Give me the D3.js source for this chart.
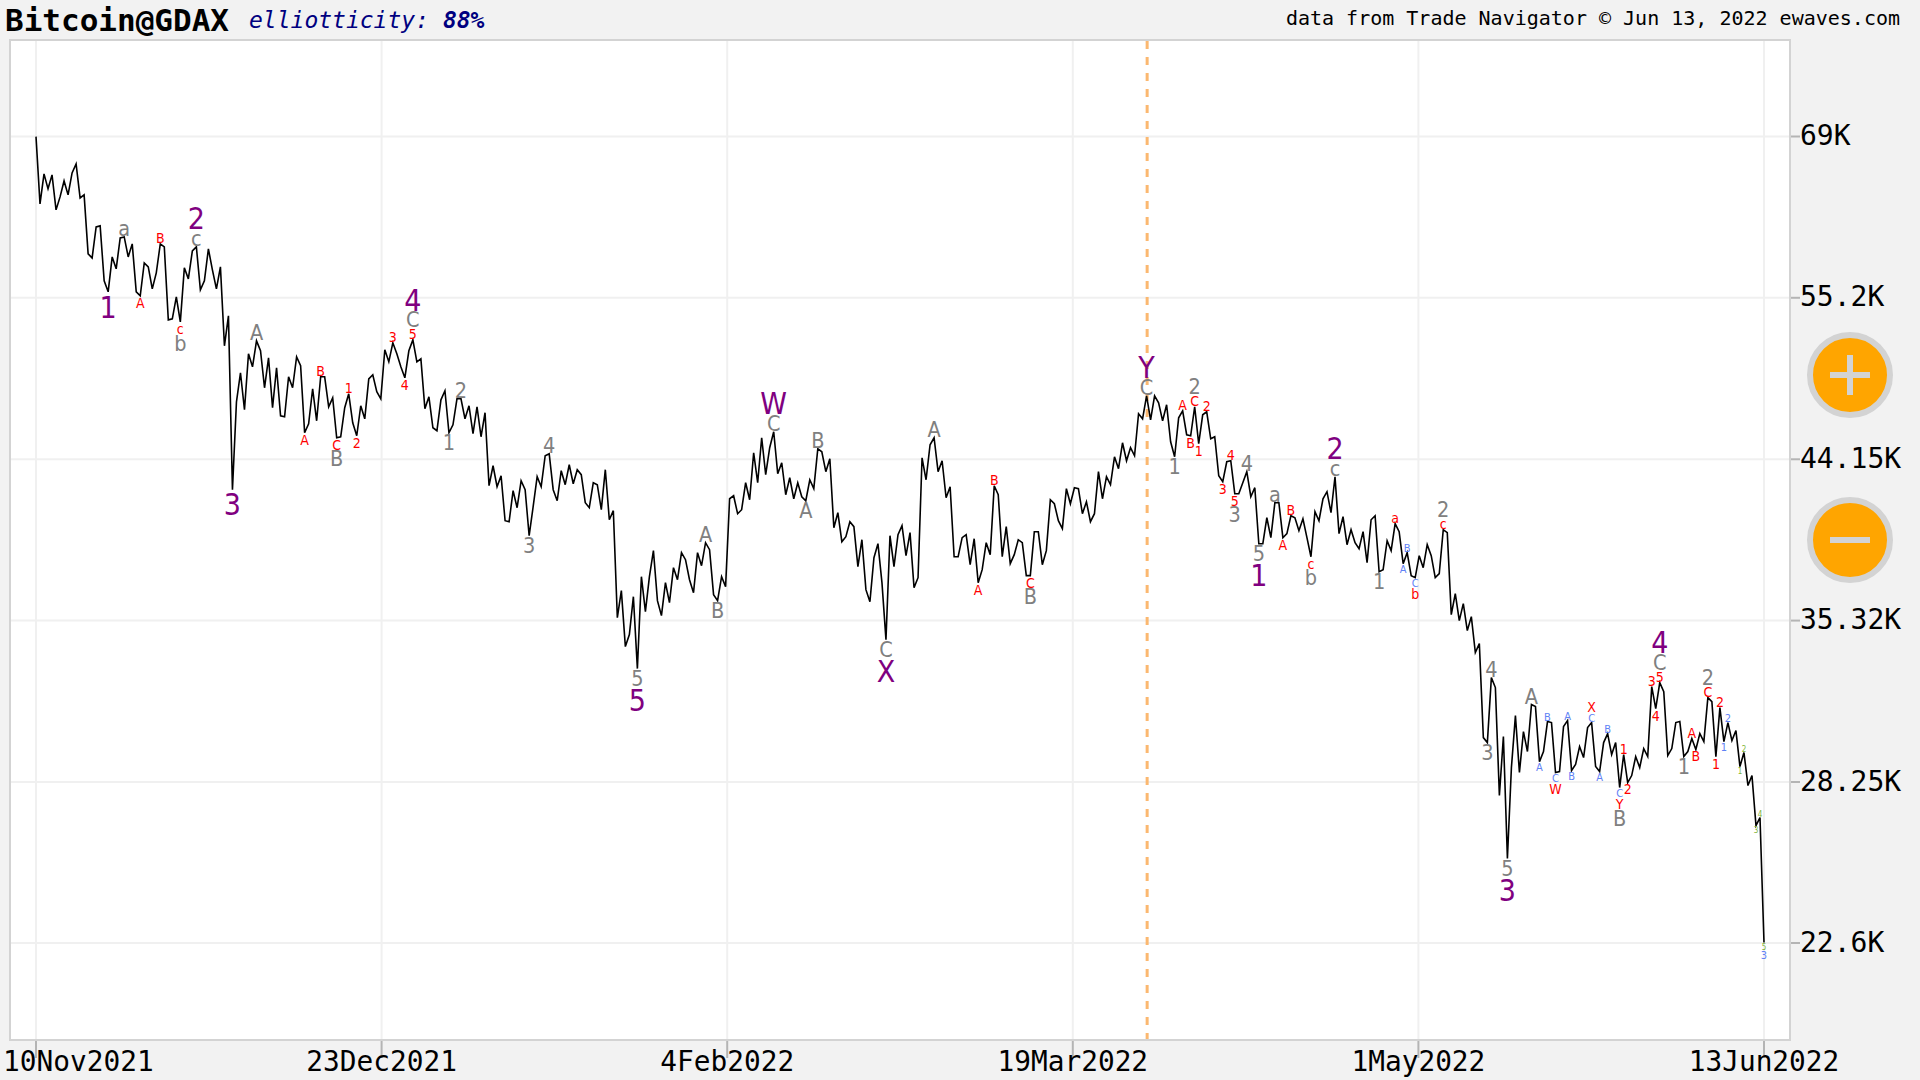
<!DOCTYPE html>
<html>
<head>
<meta charset="utf-8">
<title>Bitcoin@GDAX</title>
<script src="https://d3js.org/d3.v7.min.js"></script>
<style>
  html, body { margin: 0; padding: 0; background: #f2f2f2; }
  svg { display: block; }
  .mono { font-family: "DejaVu Sans Mono", monospace; }
  .wave { font-family: "DejaVu Sans", sans-serif; font-stretch: condensed; text-anchor: middle; }
</style>
</head>
<body>
<svg id="chart" width="1920" height="1080"></svg>
<script>
// Twice-daily closes, BTC/USD
const prices = [
68990,62860,65520,64180,65430,62340,63470,64885,63645,65612,66431,63379,63645,58659,58332,60891,60975,56507,55658,58414,
57456,59968,60052,58414,59475,55658,55349,57932,57615,55889,57139,59475,59230,53540,53615,55272,53394,57536,56663,58903,
59230,55812,56507,59067,57377,55889,57615,51654,53841,42330,47803,49763,47280,51086,50177,52009,51299,48740,50802,47411,
50108,46888,46823,49487,48740,50873,50246,45800,46373,48673,46563,49487,49487,47476,48068,45482,45546,47411,48337,46436,
45609,47542,46691,49347,49625,48472,48001,51370,50522,51867,51086,50177,49418,51299,52080,50522,50731,47345,48136,46118,
45927,47934,48539,45800,46309,48001,48001,46691,47542,45737,47476,45546,47084,42564,43757,42505,43156,40551,40495,42271,
41289,42857,42330,39720,41346,43096,42505,44365,44488,42330,41688,43457,42623,43818,42681,43517,43217,41574,41289,42740,
42623,41175,43517,40606,41118,35462,36813,34071,34640,36507,33050,37531,35760,37531,38906,36305,35561,37221,36206,38003,
37374,38798,38422,37374,36711,38798,38108,39337,38960,36609,36305,37531,37017,41803,41979,40947,41175,42740,41745,44550,
42740,45482,43217,44860,45864,43277,43938,42037,43036,41803,42740,41920,41688,42915,42389,44798,44612,43397,44180,40163,
41004,39391,39664,40495,40218,38055,39499,36864,36256,38529,39283,37221,34399,39720,38055,39775,40274,38636,39886,36966,
37479,44241,42915,45045,45482,43397,44058,41862,42505,38582,38582,39610,39775,38160,39554,37221,37898,39337,38691,42564,
42037,38582,40218,38212,38691,39499,39337,37584,37584,39941,39941,38160,38906,41745,41517,40551,40107,42389,41517,42447,
42389,40947,41631,40495,40947,43397,41803,43096,42623,44303,43577,45169,44058,44860,44365,47018,46691,48203,46627,48203,
47738,46563,47607,45231,44303,46757,47215,45673,45609,47476,45107,46953,47149,45419,45546,43156,42798,43998,44058,42096,
42096,42740,43397,41920,42447,39283,39283,40720,39610,41574,41574,39610,39831,40834,40720,39997,40663,39610,38582,41061,
40551,41803,42213,41004,43096,39831,40777,39229,40052,39337,39014,39941,38265,40606,40834,37793,37898,39445,38906,40384,
39941,38212,38798,37584,37479,38636,38003,39229,38636,37479,37689,40052,39886,35611,36660,35315,36157,34833,35512,33790,
34211,30041,29834,32639,32193,27726,30083,25413,28822,30969,28623,30293,29466,31444,31358,29060,29466,30713,30671,28623,
28662,30503,30755,28702,28941,29671,29222,30461,30671,28861,28662,29834,30209,29343,29834,28035,29343,28229,28503,29262,
28822,29589,29262,32237,31271,32415,32015,29304,29589,30671,30713,29262,29466,29999,29548,30209,29875,31749,31574,29262,
31314,29875,30671,29916,30335,28861,29425,28113,28503,26600,26895,22626
];

const startDate = "2021-11-10";
const endDate = "2022-06-13";
const markerDate = "2022-03-28T06:00:00Z";

const xTickDates = ["2021-11-10", "2021-12-23", "2022-02-04", "2022-03-19", "2022-05-01", "2022-06-13"];
const xTickLabels = ["10Nov2021", "23Dec2021", "4Feb2022", "19Mar2022", "1May2022", "13Jun2022"];
const yTickValues = [69000, 55200, 44150, 35320, 28250, 22610];
const yTickLabels = ["69K", "55.2K", "44.15K", "35.32K", "28.25K", "22.6K"];

// Elliott wave counts by degree: [bar index, label, side of the line]
const primaryWaves = [
  [18,"1","d"],[40,"2","u"],[49,"3","d"],[94,"4","u"],[150,"5","d"],
  [184,"W","u"],[212,"X","d"],[277,"Y","u"],
  [305,"1","d"],[324,"2","u"],[367,"3","d"],[405,"4","u"]
];
const intermediateWaves = [
  [22,"a","u"],[36,"b","d"],[40,"c","u"],
  [55,"A","u"],[75,"B","d"],[94,"C","u"],
  [103,"1","d"],[106,"2","u"],[123,"3","d"],[128,"4","u"],[150,"5","d"],
  [167,"A","u"],[170,"B","d"],[184,"C","u"],
  [192,"A","d"],[195,"B","u"],[212,"C","d"],
  [224,"A","u"],[248,"B","d"],[277,"C","u"],
  [284,"1","d"],[289,"2","u"],[299,"3","d"],[302,"4","u"],[305,"5","d"],
  [309,"a","u"],[318,"b","d"],[324,"c","u"],
  [335,"1","d"],[351,"2","u"],[362,"3","d"],[363,"4","u"],[367,"5","d"],
  [373,"A","u"],[395,"B","d"],[405,"C","u"],
  [411,"1","d"],[417,"2","u"]
];
const minorWaves = [
  [26,"A","d"],[31,"B","u"],[36,"c","d"],
  [67,"A","d"],[71,"B","u"],[75,"C","d"],
  [78,"1","u"],[80,"2","d"],[89,"3","u"],[92,"4","d"],[94,"5","u"],
  [235,"A","d"],[239,"B","u"],[248,"C","d"],
  [286,"A","u"],[288,"B","d"],[289,"C","u"],
  [290,"1","d"],[292,"2","u"],[296,"3","d"],[298,"4","u"],[299,"5","d"],
  [311,"A","d"],[313,"B","u"],[318,"c","d"],
  [339,"a","u"],[344,"b","d"],[351,"c","u"],
  [379,"W","d"],[388,"X","u"],[395,"Y","d"],
  [396,"1","u"],[397,"2","d"],[403,"3","u"],[404,"4","d"],[405,"5","u"],
  [413,"A","u"],[414,"B","d"],[417,"C","u"],
  [419,"1","d"],[420,"2","u"]
];
const minuteWaves = [
  [341,"A","d"],[342,"B","u"],[344,"C","d"],
  [375,"A","d"],[377,"B","u"],[379,"C","d"],
  [382,"A","u"],[383,"B","d"],[388,"C","u"],
  [390,"A","d"],[392,"B","u"],[395,"C","d"],
  [421,"1","d"],[422,"2","u"],[431,"3","d"]
];
const minuetteWaves = [
  [425,"1","d"],[426,"2","u"],[429,"3","d"],[430,"4","u"],[431,"5","d"]
];

const frame = { left: 10, right: 1790, top: 40, bottom: 1040 };
const svg = d3.select("#chart");
const parse = s => new Date(s.length > 10 ? s : s + "T00:00:00Z");

const x = d3.scaleUtc().domain([parse(startDate), parse(endDate)]).range([36, 1764]);
const y = d3.scaleLog().domain([69000, 22610]).range([136.5, 943]);
const dateAt = d3.scaleLinear().domain([0, prices.length - 1])
  .range([parse(startDate).getTime(), parse(endDate).getTime()]);
const px = i => x(new Date(dateAt(i)));

svg.append("rect")
  .attr("x", frame.left).attr("y", frame.top)
  .attr("width", frame.right - frame.left).attr("height", frame.bottom - frame.top)
  .attr("fill", "#fff").attr("stroke", "#d3d3d3").attr("stroke-width", 2);

// Grid
svg.append("g").selectAll("line").data(yTickValues).join("line")
  .attr("x1", frame.left + 1).attr("x2", frame.right - 1)
  .attr("y1", d => y(d)).attr("y2", d => y(d))
  .attr("stroke", "#f0f0f0").attr("stroke-width", 2);
svg.append("g").selectAll("line").data(xTickDates).join("line")
  .attr("x1", d => x(parse(d))).attr("x2", d => x(parse(d)))
  .attr("y1", frame.top + 1).attr("y2", frame.bottom - 1)
  .attr("stroke", "#f0f0f0").attr("stroke-width", 2);

// Tick stubs
svg.append("g").selectAll("line").data(yTickValues).join("line")
  .attr("x1", frame.right + 1).attr("x2", frame.right + 10)
  .attr("y1", d => y(d)).attr("y2", d => y(d))
  .attr("stroke", "#b4b4b4").attr("stroke-width", 2);
svg.append("g").selectAll("line").data(xTickDates).join("line")
  .attr("x1", d => x(parse(d))).attr("x2", d => x(parse(d)))
  .attr("y1", frame.bottom + 1).attr("y2", frame.bottom + 18)
  .attr("stroke", "#b4b4b4").attr("stroke-width", 2);

// Axis labels
svg.append("g").attr("class", "mono").selectAll("text").data(yTickValues).join("text")
  .attr("x", 1800).attr("y", d => y(d) + 8.5)
  .attr("font-size", 28).attr("fill", "#000")
  .text((d, i) => yTickLabels[i]);
svg.append("g").attr("class", "mono").selectAll("text").data(xTickDates).join("text")
  .attr("x", (d, i) => i === 0 ? 3 : x(parse(d)))
  .attr("y", 1071)
  .attr("text-anchor", (d, i) => i === 0 ? "start" : "middle")
  .attr("font-size", 27.8).attr("fill", "#000")
  .text((d, i) => xTickLabels[i]);

// Current-count marker
svg.append("line")
  .attr("x1", x(parse(markerDate))).attr("x2", x(parse(markerDate)))
  .attr("y1", frame.top + 1).attr("y2", frame.bottom - 1)
  .attr("stroke", "#fbb870").attr("stroke-width", 3)
  .attr("stroke-dasharray", "8 8");

// Price line
const line = d3.line().x((d, i) => px(i)).y(d => y(d));
svg.append("path").datum(prices)
  .attr("d", line).attr("fill", "none")
  .attr("stroke", "#000").attr("stroke-width", 1.6).attr("stroke-linejoin", "miter");

// Wave labels are stacked outward from the line, smallest degree first
const degrees = [
  { rows: minuetteWaves, size: 8, color: "#7fb53a", clearance: 0 },
  { rows: minuteWaves, size: 11, color: "#5f82f5", clearance: 0 },
  { rows: minorWaves, size: 14, color: "#ff0000", clearance: 0 },
  { rows: intermediateWaves, size: 21.5, color: "#808080", clearance: 0 },
  { rows: primaryWaves, size: 30, color: "#800080", clearance: 2.5 }
];
const stacks = new Map();
const waves = svg.append("g");
degrees.forEach(({ rows, size, color, clearance }) => {
  waves.append("g").attr("class", "wave").selectAll("text").data(rows).join("text")
    .attr("font-size", size).attr("fill", color)
    .attr("x", d => px(d[0]))
    .attr("y", d => {
      const below = d[2] === "d";
      const key = d[0] + d[2];
      const used = stacks.get(key) || (below ? 2 : 1);
      const height = size * 0.71;
      stacks.set(key, used + height + 1.5);
      return below
        ? y(prices[d[0]]) + used + clearance + height
        : y(prices[d[0]]) - used;
    })
    .text(d => d[1]);
});

// Header
const title = svg.append("text").attr("class", "mono").attr("y", 31);
title.append("tspan").attr("x", 5).attr("font-size", 31).attr("font-weight", "bold").text("Bitcoin@GDAX");
svg.append("text").attr("class", "mono").attr("x", 249).attr("y", 27.5)
  .attr("font-size", 23).attr("font-style", "italic").attr("fill", "#000080")
  .call(t => {
    t.append("tspan").text("elliotticity: ");
    t.append("tspan").attr("font-weight", "bold").text("88%");
  });
svg.append("text").attr("class", "mono").attr("x", 1900).attr("y", 25)
  .attr("text-anchor", "end").attr("font-size", 20).attr("fill", "#000")
  .text("data from Trade Navigator \u00a9 Jun 13, 2022 ewaves.com");

// Zoom buttons
const buttons = [{ cy: 375, plus: true }, { cy: 540, plus: false }];
const button = svg.append("g").selectAll("g").data(buttons).join("g")
  .attr("transform", d => `translate(1850,${d.cy})`);
button.append("circle").attr("r", 40).attr("fill", "#ffa500")
  .attr("stroke", "#d3d3d3").attr("stroke-width", 6);
button.append("rect").attr("x", -20).attr("y", -3).attr("width", 40).attr("height", 6).attr("fill", "#d3d3d3");
button.filter(d => d.plus).append("rect")
  .attr("x", -3).attr("y", -20).attr("width", 6).attr("height", 40).attr("fill", "#d3d3d3");
</script>
</body>
</html>
